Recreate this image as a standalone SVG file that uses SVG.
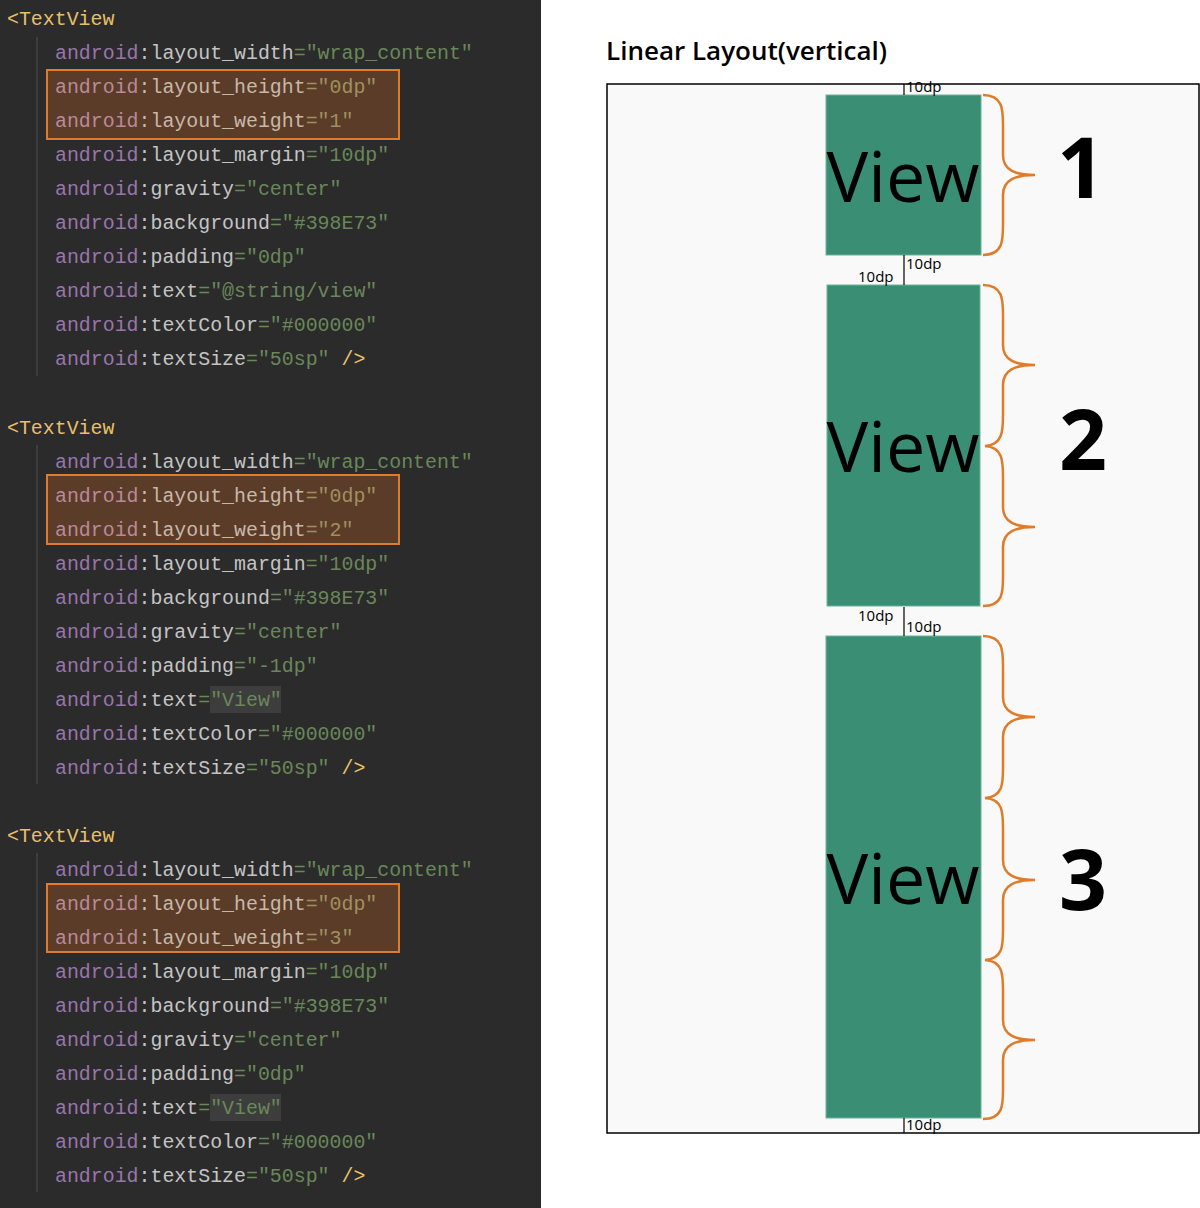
<svg xmlns="http://www.w3.org/2000/svg" width="1200" height="1208" viewBox="0 0 1200 1208">
<style>
.c{font-family:"Liberation Mono","DejaVu Sans Mono",monospace;font-size:19.9px}
.a{fill:#9876aa}.k{fill:#c4c4c4}.s{fill:#6a8759}.t{fill:#e8bf6a}
.h .a{fill:#b98a9a}.h .k{fill:#c8b8a8}.h .s{fill:#a09060}
.hb{fill:#5b3c28;stroke:#e07b2a;stroke-width:2}
.v{fill:#398e73;stroke:#6fb39c;stroke-width:1}
.vt{font-family:"Open Sans","Noto Sans",sans-serif;font-size:70px;fill:#000;text-anchor:middle}
.n{font-family:"Open Sans","Noto Sans",sans-serif;font-size:84px;font-weight:bold;fill:#000;text-anchor:middle}
.d{font-family:"Open Sans","Noto Sans",sans-serif;font-size:15px;fill:#000}
.br{fill:none;stroke:#e07b2a;stroke-width:2.5}
.dl{stroke:#000;stroke-width:1.2}
</style>
<rect x="0" y="0" width="1200" height="1208" fill="#fff"/>
<rect x="0" y="0" width="541" height="1208" fill="#2b2b2b"/>
<g id="code">
<line x1="37" y1="37" x2="37" y2="376" stroke="#3c3c3c" stroke-width="2"/>
<line x1="37" y1="445" x2="37" y2="784" stroke="#3c3c3c" stroke-width="2"/>
<line x1="37" y1="853" x2="37" y2="1192" stroke="#3c3c3c" stroke-width="2"/>
<rect class="hb" x="47" y="70" width="352" height="69"/>
<rect class="hb" x="47" y="475" width="352" height="69"/>
<rect class="hb" x="47" y="884" width="352" height="68"/>
<rect x="210" y="686" width="71" height="27" fill="#3d3d3d"/>
<rect x="210" y="1094" width="71" height="27" fill="#3d3d3d"/>
<g class="c">
<text x="7" y="25" class="t">&lt;TextView</text>
<text x="55" y="59"><tspan class="a">android</tspan><tspan class="k">:layout_width</tspan><tspan class="s">="wrap_content"</tspan></text>
<text x="55" y="93" class="h"><tspan class="a">android</tspan><tspan class="k">:layout_height</tspan><tspan class="s">="0dp"</tspan></text>
<text x="55" y="127" class="h"><tspan class="a">android</tspan><tspan class="k">:layout_weight</tspan><tspan class="s">="1"</tspan></text>
<text x="55" y="161"><tspan class="a">android</tspan><tspan class="k">:layout_margin</tspan><tspan class="s">="10dp"</tspan></text>
<text x="55" y="195"><tspan class="a">android</tspan><tspan class="k">:gravity</tspan><tspan class="s">="center"</tspan></text>
<text x="55" y="229"><tspan class="a">android</tspan><tspan class="k">:background</tspan><tspan class="s">="#398E73"</tspan></text>
<text x="55" y="263"><tspan class="a">android</tspan><tspan class="k">:padding</tspan><tspan class="s">="0dp"</tspan></text>
<text x="55" y="297"><tspan class="a">android</tspan><tspan class="k">:text</tspan><tspan class="s">="@string/view"</tspan></text>
<text x="55" y="331"><tspan class="a">android</tspan><tspan class="k">:textColor</tspan><tspan class="s">="#000000"</tspan></text>
<text x="55" y="365"><tspan class="a">android</tspan><tspan class="k">:textSize</tspan><tspan class="s">="50sp" </tspan><tspan class="t">/&gt;</tspan></text>

<text x="7" y="434" class="t">&lt;TextView</text>
<text x="55" y="468"><tspan class="a">android</tspan><tspan class="k">:layout_width</tspan><tspan class="s">="wrap_content"</tspan></text>
<text x="55" y="502" class="h"><tspan class="a">android</tspan><tspan class="k">:layout_height</tspan><tspan class="s">="0dp"</tspan></text>
<text x="55" y="536" class="h"><tspan class="a">android</tspan><tspan class="k">:layout_weight</tspan><tspan class="s">="2"</tspan></text>
<text x="55" y="570"><tspan class="a">android</tspan><tspan class="k">:layout_margin</tspan><tspan class="s">="10dp"</tspan></text>
<text x="55" y="604"><tspan class="a">android</tspan><tspan class="k">:background</tspan><tspan class="s">="#398E73"</tspan></text>
<text x="55" y="638"><tspan class="a">android</tspan><tspan class="k">:gravity</tspan><tspan class="s">="center"</tspan></text>
<text x="55" y="672"><tspan class="a">android</tspan><tspan class="k">:padding</tspan><tspan class="s">="-1dp"</tspan></text>
<text x="55" y="706"><tspan class="a">android</tspan><tspan class="k">:text</tspan><tspan class="s">="View"</tspan></text>
<text x="55" y="740"><tspan class="a">android</tspan><tspan class="k">:textColor</tspan><tspan class="s">="#000000"</tspan></text>
<text x="55" y="774"><tspan class="a">android</tspan><tspan class="k">:textSize</tspan><tspan class="s">="50sp" </tspan><tspan class="t">/&gt;</tspan></text>

<text x="7" y="842" class="t">&lt;TextView</text>
<text x="55" y="876"><tspan class="a">android</tspan><tspan class="k">:layout_width</tspan><tspan class="s">="wrap_content"</tspan></text>
<text x="55" y="910" class="h"><tspan class="a">android</tspan><tspan class="k">:layout_height</tspan><tspan class="s">="0dp"</tspan></text>
<text x="55" y="944" class="h"><tspan class="a">android</tspan><tspan class="k">:layout_weight</tspan><tspan class="s">="3"</tspan></text>
<text x="55" y="978"><tspan class="a">android</tspan><tspan class="k">:layout_margin</tspan><tspan class="s">="10dp"</tspan></text>
<text x="55" y="1012"><tspan class="a">android</tspan><tspan class="k">:background</tspan><tspan class="s">="#398E73"</tspan></text>
<text x="55" y="1046"><tspan class="a">android</tspan><tspan class="k">:gravity</tspan><tspan class="s">="center"</tspan></text>
<text x="55" y="1080"><tspan class="a">android</tspan><tspan class="k">:padding</tspan><tspan class="s">="0dp"</tspan></text>
<text x="55" y="1114"><tspan class="a">android</tspan><tspan class="k">:text</tspan><tspan class="s">="View"</tspan></text>
<text x="55" y="1148"><tspan class="a">android</tspan><tspan class="k">:textColor</tspan><tspan class="s">="#000000"</tspan></text>
<text x="55" y="1182"><tspan class="a">android</tspan><tspan class="k">:textSize</tspan><tspan class="s">="50sp" </tspan><tspan class="t">/&gt;</tspan></text>
</g>
</g>
<text x="606" y="60" font-family="'Open Sans','Noto Sans',sans-serif" font-size="26" font-weight="600" fill="#000">Linear Layout(vertical)</text>
<rect x="607" y="84" width="592" height="1049" fill="#f9f9f9" stroke="#000" stroke-width="1.5"/>
<g id="view1"><rect class="v" x="826" y="95" width="155" height="160"/><text class="vt" x="903" y="202">View</text></g>
<g id="view2"><rect class="v" x="827" y="285" width="153" height="321"/><text class="vt" x="903" y="472">View</text></g>
<g id="view3"><rect class="v" x="826" y="636" width="155" height="482"/><text class="vt" x="903" y="904">View</text></g>
<g id="connectors">
<path class="br" d="M983,95 C1003,95 1003,110 1003,125 L1003,155 C1003,170 1015,175 1035,175 C1015,175 1003,180 1003,195 L1003,225 C1003,240 1003,255 983,255"/>
<path class="br" d="M983,285 C1003,285 1003,300 1003,315 L1003,345 C1003,360 1015,365 1035,365 C1015,365 1003,370 1003,385 L1003,415 C1003,430 1003,445 985,446 C1003,447 1003,462 1003,477 L1003,507 C1003,522 1015,527 1035,527 C1015,527 1003,532 1003,547 L1003,577 C1003,592 1003,606 983,606"/>
<path class="br" d="M983,636 C1003,636 1003,651 1003,666 L1003,697 C1003,712 1015,717 1035,717 C1015,717 1003,722 1003,737 L1003,768 C1003,783 1003,797 985,798 C1003,799 1003,813 1003,828 L1003,860 C1003,875 1015,880 1035,880 C1015,880 1003,885 1003,900 L1003,930 C1003,945 1003,959 985,960 C1003,961 1003,975 1003,990 L1003,1020 C1003,1035 1015,1040 1035,1040 C1015,1040 1003,1045 1003,1060 L1003,1090 C1003,1105 1003,1119 983,1119"/>
<line class="dl" x1="904" y1="84" x2="904" y2="95"/>
<line class="dl" x1="904" y1="255" x2="904" y2="285"/>
<line class="dl" x1="904" y1="607" x2="904" y2="636"/>
<line class="dl" x1="904" y1="1118" x2="904" y2="1133"/>
</g>
<text class="n" x="1081" y="198">1</text>
<text class="n" x="1083" y="470">2</text>
<text class="n" x="1083" y="910">3</text>
<g class="d">
<text x="906" y="92">10dp</text>
<text x="906" y="269">10dp</text>
<text x="858" y="282">10dp</text>
<text x="858" y="621">10dp</text>
<text x="906" y="632">10dp</text>
<text x="906" y="1130">10dp</text>
</g>
</svg>
